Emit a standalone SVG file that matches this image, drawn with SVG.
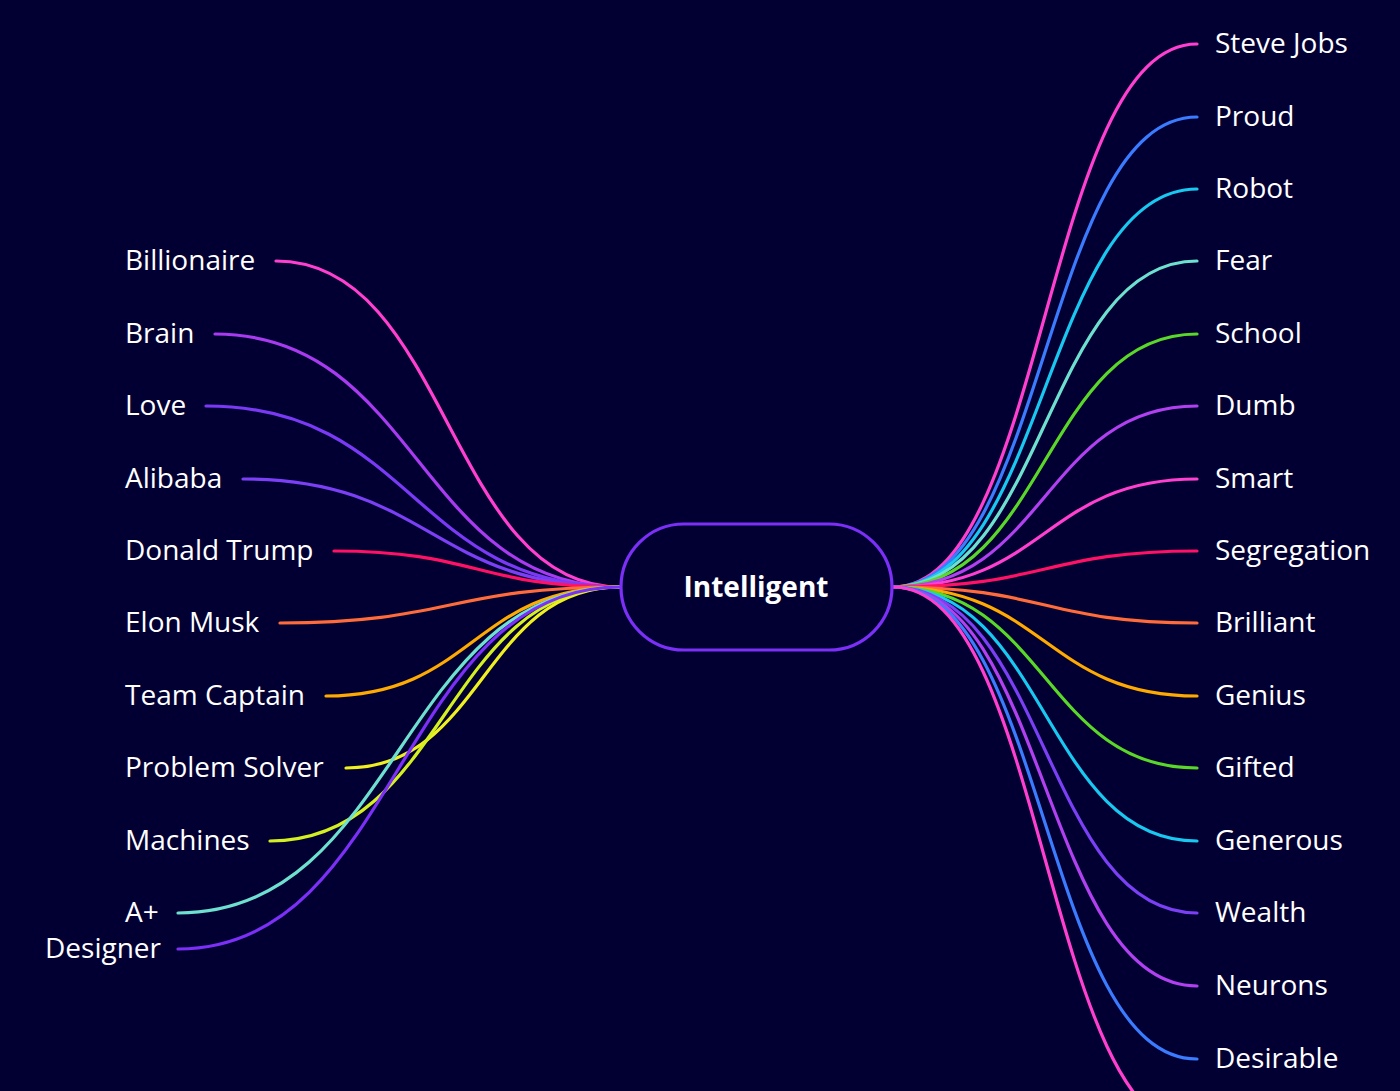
<svg xmlns="http://www.w3.org/2000/svg" width="1400" height="1091" viewBox="0 0 1400 1091">
<style>
.l{font-family:"Open Sans","Noto Sans",sans-serif;font-size:28px;fill:#fff}
path{fill:none;stroke-width:3.2;stroke-linecap:round}
</style>
<rect width="1400" height="1091" fill="#020033"/>
<g id="connectors">
<path d="M620,587 C448,587 448,261 276,261" stroke="#ff3fd0"/>
<path d="M620,587 C418,587 418,334 215,334" stroke="#a83af0"/>
<path d="M620,587 C413,587 413,406 206,406" stroke="#7a3af5"/>
<path d="M620,587 C431,587 431,479 243,479" stroke="#7b3ff5"/>
<path d="M620,587 C477,587 477,551 334,551" stroke="#ff1166"/>
<path d="M620,587 C450,587 450,623 280,623" stroke="#ff6b3a"/>
<path d="M620,587 C473,587 473,696 326,696" stroke="#ffaa00"/>
<path d="M620,587 C483,587 483,768 346,768" stroke="#f0f020"/>
<path d="M620,587 C445,587 445,841 270,841" stroke="#d4f020"/>
<path d="M620,587 C399,587 399,913 178,913" stroke="#6ee0d0"/>
<path d="M620,587 C399,587 399,949 178,949" stroke="#7b2ff7"/>
<path d="M893,587 C1045,587 1045,44 1197,44" stroke="#ff3fd0"/>
<path d="M893,587 C1045,587 1045,117 1197,117" stroke="#3a7bff"/>
<path d="M893,587 C1045,587 1045,189 1197,189" stroke="#18c8f0"/>
<path d="M893,587 C1045,587 1045,261 1197,261" stroke="#6ee0d0"/>
<path d="M893,587 C1045,587 1045,334 1197,334" stroke="#5ad82a"/>
<path d="M893,587 C1045,587 1045,406 1197,406" stroke="#b040f0"/>
<path d="M893,587 C1045,587 1045,479 1197,479" stroke="#ff3fd0"/>
<path d="M893,587 C1045,587 1045,551 1197,551" stroke="#ff1166"/>
<path d="M893,587 C1045,587 1045,623 1197,623" stroke="#ff6b3a"/>
<path d="M893,587 C1045,587 1045,696 1197,696" stroke="#ffaa00"/>
<path d="M893,587 C1045,587 1045,768 1197,768" stroke="#5ad82a"/>
<path d="M893,587 C1045,587 1045,841 1197,841" stroke="#18c8f0"/>
<path d="M893,587 C1045,587 1045,913 1197,913" stroke="#7b3ff5"/>
<path d="M893,587 C1045,587 1045,986 1197,986" stroke="#b040f0"/>
<path d="M893,587 C1045,587 1045,1059 1197,1059" stroke="#3a7bff"/>
<path d="M893,587 C1045,587 1045,1131 1197,1131" stroke="#ff3fd0"/>
</g>
<g id="center"><rect x="621" y="524" width="271" height="126" rx="63" fill="#020033" stroke="#7b2ff7" stroke-width="3.2"/>
<text x="756" y="597" text-anchor="middle" class="l" style="font-weight:bold;font-size:28px">Intelligent</text></g>
<g id="left">
<text class="l" x="125" y="270">Billionaire</text>
<text class="l" x="125" y="343">Brain</text>
<text class="l" x="125" y="415">Love</text>
<text class="l" x="125" y="488">Alibaba</text>
<text class="l" x="125" y="560">Donald Trump</text>
<text class="l" x="125" y="632">Elon Musk</text>
<text class="l" x="125" y="705">Team Captain</text>
<text class="l" x="125" y="777">Problem Solver</text>
<text class="l" x="125" y="850">Machines</text>
<text class="l" x="125" y="922">A+</text>
<text class="l" x="45" y="958">Designer</text>
</g>
<g id="right">
<text class="l" x="1215" y="53">Steve Jobs</text>
<text class="l" x="1215" y="126">Proud</text>
<text class="l" x="1215" y="198">Robot</text>
<text class="l" x="1215" y="270">Fear</text>
<text class="l" x="1215" y="343">School</text>
<text class="l" x="1215" y="415">Dumb</text>
<text class="l" x="1215" y="488">Smart</text>
<text class="l" x="1215" y="560">Segregation</text>
<text class="l" x="1215" y="632">Brilliant</text>
<text class="l" x="1215" y="705">Genius</text>
<text class="l" x="1215" y="777">Gifted</text>
<text class="l" x="1215" y="850">Generous</text>
<text class="l" x="1215" y="922">Wealth</text>
<text class="l" x="1215" y="995">Neurons</text>
<text class="l" x="1215" y="1068">Desirable</text>
</g>
</svg>
